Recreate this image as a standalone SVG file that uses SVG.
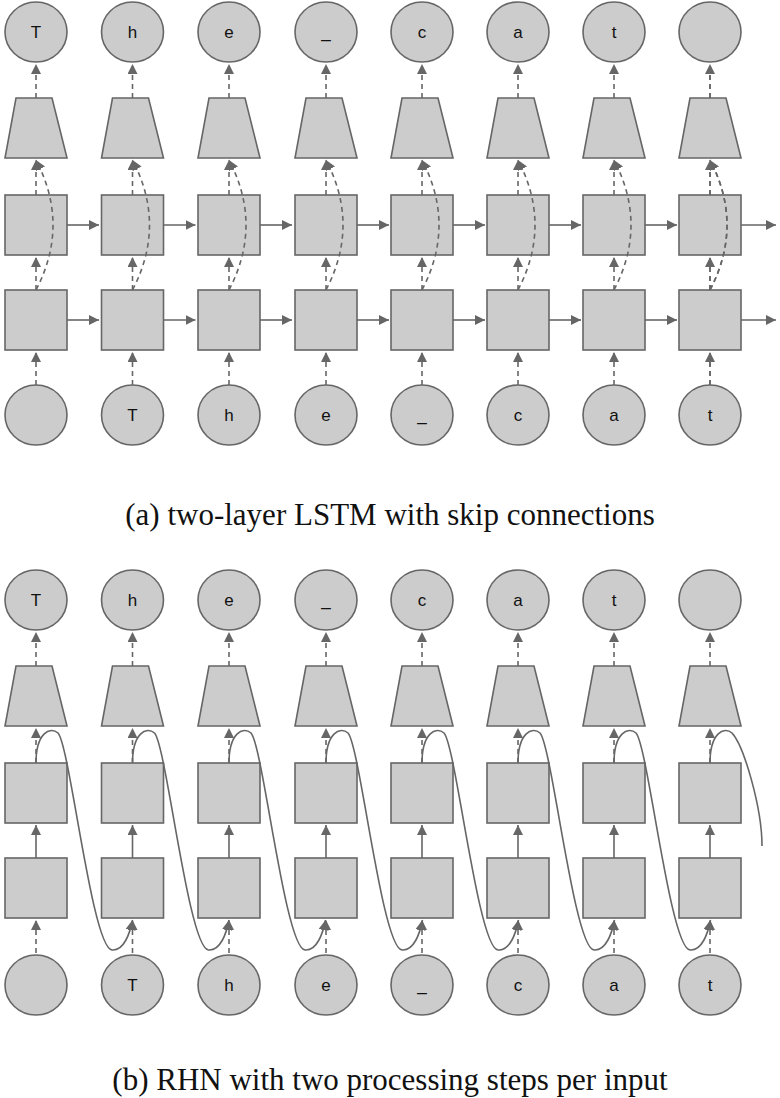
<svg xmlns="http://www.w3.org/2000/svg" width="780" height="1098" viewBox="0 0 780 1098">
<style>
.n{fill:#ccc;stroke:#666;stroke-width:1.6}
.d{fill:none;stroke:#666;stroke-width:1.6;stroke-dasharray:5,4}
.s{fill:none;stroke:#666;stroke-width:1.6}
.t{font-family:"Liberation Sans",Arial,sans-serif;font-size:17px;fill:#111;text-anchor:middle}
.c{font-family:"Liberation Serif","Times New Roman",serif;font-size:31px;fill:#111;text-anchor:middle}
</style>
<defs>
<marker id="a" viewBox="0 0 10 10" refX="10" refY="5" markerWidth="10" markerHeight="10" markerUnits="userSpaceOnUse" orient="auto"><path d="M0,0L10,5L0,10z" fill="#666"/></marker>
<g id="tc">
<path class="d" d="M36,385V352" marker-end="url(#a)"/>
<path class="d" d="M36,290V257" marker-end="url(#a)"/>
<path class="d" d="M36,290Q70,225 36,160" marker-end="url(#a)"/>
<path class="d" d="M36,195V160" marker-end="url(#a)"/>
<path class="d" d="M36,98V64" marker-end="url(#a)"/>
<path class="s" d="M67,225H99" marker-end="url(#a)"/>
<path class="s" d="M67,320H99" marker-end="url(#a)"/>
</g>
<g id="bc">
<path class="d" d="M36,385V352" marker-end="url(#a)"/>
<path class="s" d="M36,290V257" marker-end="url(#a)"/>
<path class="d" d="M36,195V160" marker-end="url(#a)"/>
<path class="d" d="M36,98V64" marker-end="url(#a)"/>
</g>
<path id="bcurve" class="s" d="M36,195C36,165 50,158 58,165C70,178 92,380 112,382C124,383 130,365 132.5,352" marker-end="url(#a)"/>
</defs>
<rect width="780" height="1098" fill="#fff"/>

<g id="nodes-top">
<g id="t1"><ellipse class="n" cx="36" cy="32" rx="31" ry="30"/><text class="t" x="36" y="38">T</text><path class="n" d="M16,98H52L67,158H5Z"/><rect class="n" x="5" y="195" width="62" height="60"/><rect class="n" x="5" y="290" width="62" height="60"/><ellipse class="n" cx="36" cy="415" rx="31" ry="30"/></g>
<g id="t2" transform="translate(96.5,0)"><ellipse class="n" cx="36" cy="32" rx="31" ry="30"/><text class="t" x="36" y="38">h</text><path class="n" d="M16,98H52L67,158H5Z"/><rect class="n" x="5" y="195" width="62" height="60"/><rect class="n" x="5" y="290" width="62" height="60"/><ellipse class="n" cx="36" cy="415" rx="31" ry="30"/><text class="t" x="36" y="421">T</text></g>
<g id="t3" transform="translate(193,0)"><ellipse class="n" cx="36" cy="32" rx="31" ry="30"/><text class="t" x="36" y="38">e</text><path class="n" d="M16,98H52L67,158H5Z"/><rect class="n" x="5" y="195" width="62" height="60"/><rect class="n" x="5" y="290" width="62" height="60"/><ellipse class="n" cx="36" cy="415" rx="31" ry="30"/><text class="t" x="36" y="421">h</text></g>
<g id="t4" transform="translate(290,0)"><ellipse class="n" cx="36" cy="32" rx="31" ry="30"/><text class="t" x="36" y="38">_</text><path class="n" d="M16,98H52L67,158H5Z"/><rect class="n" x="5" y="195" width="62" height="60"/><rect class="n" x="5" y="290" width="62" height="60"/><ellipse class="n" cx="36" cy="415" rx="31" ry="30"/><text class="t" x="36" y="421">e</text></g>
<g id="t5" transform="translate(386,0)"><ellipse class="n" cx="36" cy="32" rx="31" ry="30"/><text class="t" x="36" y="38">c</text><path class="n" d="M16,98H52L67,158H5Z"/><rect class="n" x="5" y="195" width="62" height="60"/><rect class="n" x="5" y="290" width="62" height="60"/><ellipse class="n" cx="36" cy="415" rx="31" ry="30"/><text class="t" x="36" y="421">_</text></g>
<g id="t6" transform="translate(482,0)"><ellipse class="n" cx="36" cy="32" rx="31" ry="30"/><text class="t" x="36" y="38">a</text><path class="n" d="M16,98H52L67,158H5Z"/><rect class="n" x="5" y="195" width="62" height="60"/><rect class="n" x="5" y="290" width="62" height="60"/><ellipse class="n" cx="36" cy="415" rx="31" ry="30"/><text class="t" x="36" y="421">c</text></g>
<g id="t7" transform="translate(578,0)"><ellipse class="n" cx="36" cy="32" rx="31" ry="30"/><text class="t" x="36" y="38">t</text><path class="n" d="M16,98H52L67,158H5Z"/><rect class="n" x="5" y="195" width="62" height="60"/><rect class="n" x="5" y="290" width="62" height="60"/><ellipse class="n" cx="36" cy="415" rx="31" ry="30"/><text class="t" x="36" y="421">a</text></g>
<g id="t8" transform="translate(674,0)"><ellipse class="n" cx="36" cy="32" rx="31" ry="30"/><path class="n" d="M16,98H52L67,158H5Z"/><rect class="n" x="5" y="195" width="62" height="60"/><rect class="n" x="5" y="290" width="62" height="60"/><ellipse class="n" cx="36" cy="415" rx="31" ry="30"/><text class="t" x="36" y="421">t</text></g>
</g>

<g id="nodes-bottom" transform="translate(0,568)">
<g id="b1"><ellipse class="n" cx="36" cy="32" rx="31" ry="30"/><text class="t" x="36" y="38">T</text><path class="n" d="M16,98H52L67,158H5Z"/><rect class="n" x="5" y="195" width="62" height="60"/><rect class="n" x="5" y="290" width="62" height="60"/><ellipse class="n" cx="36" cy="417" rx="31" ry="30"/></g>
<g id="b2" transform="translate(96.5,0)"><ellipse class="n" cx="36" cy="32" rx="31" ry="30"/><text class="t" x="36" y="38">h</text><path class="n" d="M16,98H52L67,158H5Z"/><rect class="n" x="5" y="195" width="62" height="60"/><rect class="n" x="5" y="290" width="62" height="60"/><ellipse class="n" cx="36" cy="417" rx="31" ry="30"/><text class="t" x="36" y="423">T</text></g>
<g id="b3" transform="translate(193,0)"><ellipse class="n" cx="36" cy="32" rx="31" ry="30"/><text class="t" x="36" y="38">e</text><path class="n" d="M16,98H52L67,158H5Z"/><rect class="n" x="5" y="195" width="62" height="60"/><rect class="n" x="5" y="290" width="62" height="60"/><ellipse class="n" cx="36" cy="417" rx="31" ry="30"/><text class="t" x="36" y="423">h</text></g>
<g id="b4" transform="translate(290,0)"><ellipse class="n" cx="36" cy="32" rx="31" ry="30"/><text class="t" x="36" y="38">_</text><path class="n" d="M16,98H52L67,158H5Z"/><rect class="n" x="5" y="195" width="62" height="60"/><rect class="n" x="5" y="290" width="62" height="60"/><ellipse class="n" cx="36" cy="417" rx="31" ry="30"/><text class="t" x="36" y="423">e</text></g>
<g id="b5" transform="translate(386,0)"><ellipse class="n" cx="36" cy="32" rx="31" ry="30"/><text class="t" x="36" y="38">c</text><path class="n" d="M16,98H52L67,158H5Z"/><rect class="n" x="5" y="195" width="62" height="60"/><rect class="n" x="5" y="290" width="62" height="60"/><ellipse class="n" cx="36" cy="417" rx="31" ry="30"/><text class="t" x="36" y="423">_</text></g>
<g id="b6" transform="translate(482,0)"><ellipse class="n" cx="36" cy="32" rx="31" ry="30"/><text class="t" x="36" y="38">a</text><path class="n" d="M16,98H52L67,158H5Z"/><rect class="n" x="5" y="195" width="62" height="60"/><rect class="n" x="5" y="290" width="62" height="60"/><ellipse class="n" cx="36" cy="417" rx="31" ry="30"/><text class="t" x="36" y="423">c</text></g>
<g id="b7" transform="translate(578,0)"><ellipse class="n" cx="36" cy="32" rx="31" ry="30"/><text class="t" x="36" y="38">t</text><path class="n" d="M16,98H52L67,158H5Z"/><rect class="n" x="5" y="195" width="62" height="60"/><rect class="n" x="5" y="290" width="62" height="60"/><ellipse class="n" cx="36" cy="417" rx="31" ry="30"/><text class="t" x="36" y="423">a</text></g>
<g id="b8" transform="translate(674,0)"><ellipse class="n" cx="36" cy="32" rx="31" ry="30"/><path class="n" d="M16,98H52L67,158H5Z"/><rect class="n" x="5" y="195" width="62" height="60"/><rect class="n" x="5" y="290" width="62" height="60"/><ellipse class="n" cx="36" cy="417" rx="31" ry="30"/><text class="t" x="36" y="423">t</text></g>
</g>

<g id="connectors">
<use href="#tc"/>
<use href="#tc" x="96.5"/>
<use href="#tc" x="193"/>
<use href="#tc" x="290"/>
<use href="#tc" x="386"/>
<use href="#tc" x="482"/>
<use href="#tc" x="578"/>
<path class="d" d="M710,385V352M710,290V257M710,290Q744,225 710,160M710,195V160M710,98V64" marker-end="url(#a)" style="marker-end:none"/>
<path class="d" d="M710,385V352" marker-end="url(#a)"/>
<path class="d" d="M710,290V257" marker-end="url(#a)"/>
<path class="d" d="M710,290Q744,225 710,160" marker-end="url(#a)"/>
<path class="d" d="M710,195V160" marker-end="url(#a)"/>
<path class="d" d="M710,98V64" marker-end="url(#a)"/>
<path class="s" d="M741,225H776" marker-end="url(#a)"/>
<path class="s" d="M741,320H776" marker-end="url(#a)"/>
<g transform="translate(0,568)">
<use href="#bc"/><use href="#bc" x="96.5"/><use href="#bc" x="193"/><use href="#bc" x="290"/><use href="#bc" x="386"/><use href="#bc" x="482"/><use href="#bc" x="578"/><use href="#bc" x="674"/>
<use href="#bcurve"/><use href="#bcurve" x="96.5"/><use href="#bcurve" x="193"/><use href="#bcurve" x="290"/><use href="#bcurve" x="386"/><use href="#bcurve" x="482"/><use href="#bcurve" x="578"/>
<path class="s" d="M710,195C710,165 724,158 732,165C744,178 762,240 762,278"/>
</g>
</g>
<text class="c" x="390" y="525">(a) two-layer LSTM with skip connections</text>
<text class="c" x="390" y="1090">(b) RHN with two processing steps per input</text>
</svg>
